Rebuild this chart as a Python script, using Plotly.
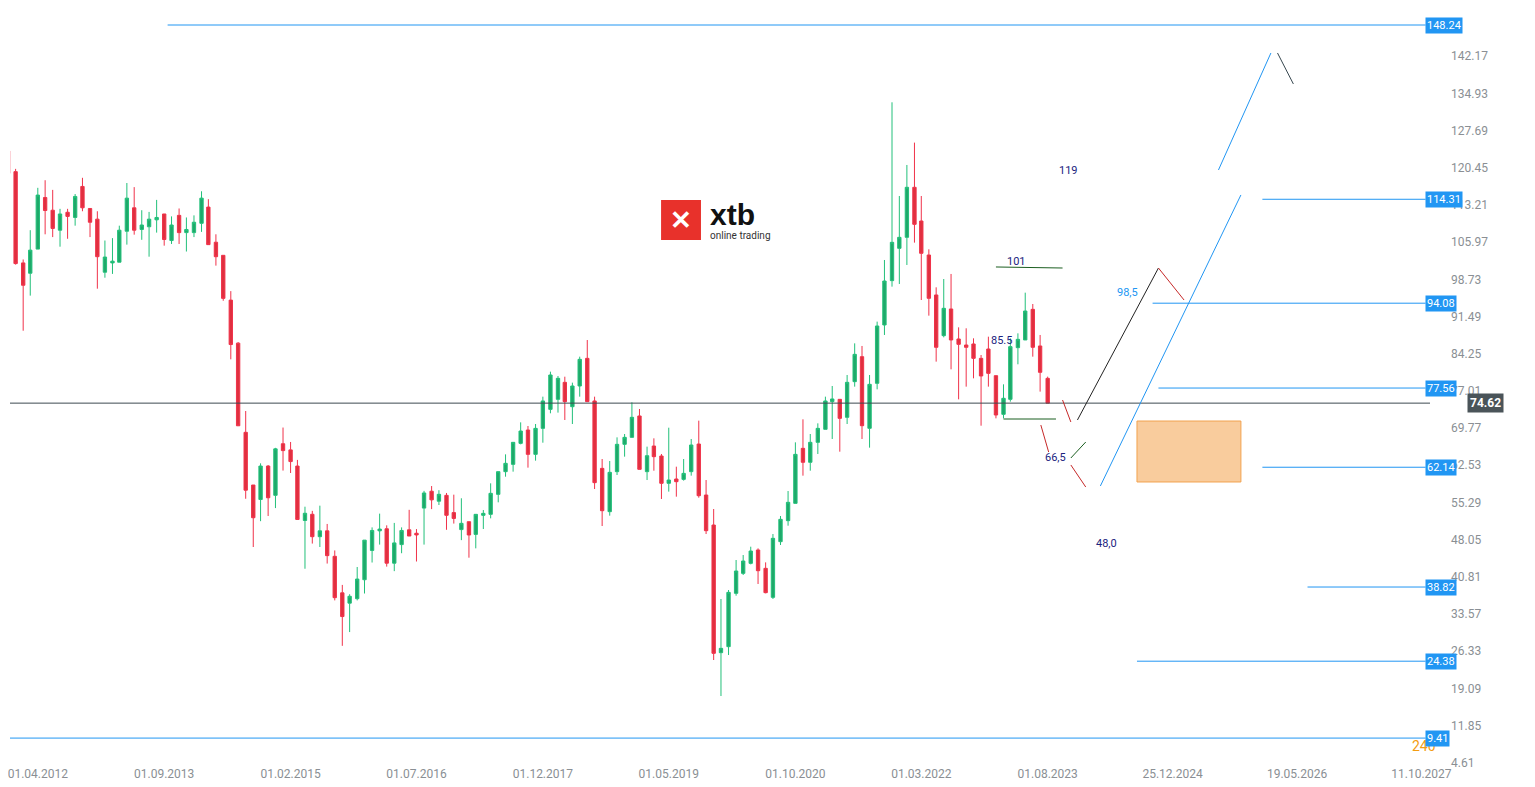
import plotly.graph_objects as go
import pandas as pd

start_month = "2011-12-01"
opens = [123.72,119.69,101.92,99.91,104.61,114.66,112.18,108.29,111.78,110.77,116.81,112.52,110.44,100.11,101.92,102.06,108.09,112.65,108.43,108.96,
110.31,111.45,106.28,111.18,107.82,107.82,109.63,112.79,105.95,103.40,94.68,86.30,68.94,58.68,55.86,62.37,56.67,66.72,65.52,62.37,
51.77,52.98,48.62,49.76,44.80,37.69,35.68,36.55,40.24,45.94,49.76,50.16,43.46,47.08,49.96,49.29,54.19,57.47,55.53,56.67,
53.31,50.0,51.54,49.07,52.78,52.97,56.86,61.28,62.70,66.79,69.39,64.65,69.71,73.41,75.36,78.67,73.93,77.96,83.34,75.04,
61.92,53.49,61.28,66.60,67.96,72.12,61.28,66.27,64.33,59.01,59.85,59.78,61.28,66.66,56.73,50.89,26.04,27.21,37.59,41.48,
43.43,46.03,42.46,36.81,47.65,51.74,55.11,65.82,63.10,66.99,69.52,74.91,75.36,71.86,78.80,83.67,69.72,78.48,89.84,98.47,
104.76,106.90,116.64,110.08,103.46,95.68,87.76,92.95,87.11,85.94,86.14,83.34,85.16,79.97,72.44,75.36,85.42,86.92,92.88,85.75,79.45]
highs = [126.06,120.23,102.59,108.29,116.54,118.02,116.14,112.45,112.45,115.33,118.49,112.52,111.98,106.28,106.75,109.17,117.48,116.68,112.18,111.85,
114.19,111.45,110.98,112.52,110.77,111.18,115.87,114.33,107.49,103.40,96.43,86.50,73.09,58.68,62.90,62.57,65.92,69.87,67.06,63.57,
54.46,53.65,54.66,51.10,45.94,39.23,37.42,42.72,47.95,50.43,53.11,50.83,51.30,50.43,53.85,50.10,57.54,58.48,57.67,57.13,
56.80,56.10,51.54,52.97,53.81,59.01,61.28,64.65,66.99,70.88,70.17,70.56,75.88,80.75,79.90,79.77,78.61,83.67,86.91,75.88,
63.74,63.35,67.96,68.61,74.78,73.48,66.15,67.77,64.72,69.84,62.25,63.74,67.64,71.21,59.65,54.01,36.49,38.24,44.08,45.05,
46.67,46.35,43.62,49.14,52.65,57.51,66.99,71.47,68.61,70.69,75.88,77.96,75.36,80.10,86.26,85.75,80.10,90.49,102.49,133.19,
114.95,120.99,125.34,114.95,104.57,97.17,98.79,99.77,89.38,89.19,87.24,83.99,87.56,79.97,78.28,87.24,88.21,96.13,93.92,87.89,79.78]
lows = [117.01,101.59,88.72,95.55,104.61,107.49,106.95,105.08,106.62,109.17,111.98,106.95,96.90,99.04,99.78,102.06,105.48,107.42,106.42,103.13,
107.82,105.28,105.61,105.61,104.14,106.95,107.96,105.48,101.39,94.55,83.15,70.21,56.00,46.61,51.64,52.65,54.19,61.49,61.02,51.97,
42.38,47.28,46.61,43.39,36.22,27.37,30.05,36.22,37.56,43.59,47.08,42.79,41.91,45.40,48.75,43.79,47.08,53.99,54.79,49.96,
51.17,47.95,44.53,46.35,50.11,52.19,55.31,60.30,61.28,66.60,62.06,63.42,66.92,72.64,72.77,71.34,70.56,75.88,74.91,57.90,
50.70,52.71,60.63,64.20,67.96,61.73,59.65,61.47,55.96,57.39,56.41,59.53,60.50,56.21,49.14,24.61,17.60,25.58,37.13,41.16,
43.23,39.41,37.59,36.49,47.00,50.76,55.11,60.50,61.47,64.72,69.52,67.64,65.17,70.56,77.83,67.64,65.95,77.31,87.89,97.30,
97.82,101.52,105.87,94.70,91.65,82.70,87.43,81.20,75.36,77.83,79.45,70.23,77.83,71.66,71.66,74.91,82.18,86.92,83.67,76.86,74.62]
closes = [119.36,101.79,97.57,104.41,115.13,112.12,108.63,111.45,110.98,114.86,112.65,109.84,103.13,103.06,102.26,108.29,114.53,108.29,109.30,110.44,
110.77,106.48,109.30,107.82,108.43,109.84,114.53,105.48,103.13,95.02,86.03,70.21,57.67,52.31,62.37,56.20,65.72,65.38,63.24,51.97,
53.18,48.62,49.76,44.93,36.75,33.07,37.02,40.37,47.95,49.83,50.10,43.46,47.41,49.83,48.75,48.96,57.13,55.79,56.87,52.78,
52.17,51.22,48.95,52.97,53.16,57.06,61.28,62.90,66.99,69.19,64.65,69.71,75.04,80.10,79.45,74.91,77.96,83.15,74.91,59.14,
53.68,61.15,66.60,67.96,71.86,61.73,64.39,64.20,59.01,59.65,59.33,60.95,66.47,56.60,49.79,25.91,26.88,37.78,41.94,43.88,
45.83,42.00,37.72,48.30,52.00,55.31,64.65,63.10,66.99,69.71,75.04,75.43,71.66,78.67,84.12,70.23,78.28,89.64,98.40,105.93,
106.90,116.64,109.43,103.79,95.03,85.49,93.08,86.92,86.07,85.49,83.34,79.91,80.42,72.31,75.56,85.62,87.04,92.56,85.49,80.62,74.62]
dates = pd.date_range(start_month, periods=len(opens), freq="MS")

tick_dates = ["2012-04-01","2013-09-01","2015-02-01","2016-07-01","2017-12-01","2019-05-01",
              "2020-10-01","2022-03-01","2023-08-01","2024-12-25","2026-05-19","2027-10-11"]
tick_labels = ["01.04.2012","01.09.2013","01.02.2015","01.07.2016","01.12.2017","01.05.2019",
               "01.10.2020","01.03.2022","01.08.2023","25.12.2024","19.05.2026","11.10.2027"]
price_ticks = [4.61,11.85,19.09,26.33,33.57,40.81,48.05,55.29,62.53,69.77,77.01,84.25,91.49,98.73,105.97,113.21,120.45,127.69,134.93,142.17]

level_values = [148.24,114.31,94.08,77.56,62.14,38.82,24.38,9.41]
level_starts = ["2013-09-15","2025-12-28","2024-10-04","2024-10-28","2025-12-28","2026-07-01","2024-08-01","2011-11-06"]
last_price = 74.62
END = "2027-10-28"

BLUE = "#2196f3"
NAVY = "#1a237e"
fig = go.Figure(go.Candlestick(
    x=dates, open=opens, high=highs, low=lows, close=closes,
    increasing=dict(line=dict(color="#22c07a", width=1), fillcolor="#1fa86a"),
    decreasing=dict(line=dict(color="#f0324a", width=1), fillcolor="#e0303f"),
    whiskerwidth=0, showlegend=False, hoverinfo="skip"))

shapes = []
for v, s in zip(level_values, level_starts):
    shapes.append(dict(type="line", x0=s, x1=END, y0=v, y1=v, line=dict(color=BLUE, width=1)))
shapes.append(dict(type="line", xref="paper", x0=0, x1=1, y0=last_price, y1=last_price,
                   line=dict(color="#3d4a50", width=1)))
drawn = [
    ("2023-12-01", 71.34, "2024-10-28", 100.93, "#222222"),
    ("2024-10-28", 100.93, "2025-02-10", 94.70, "#c62828"),
    ("2023-10-01", 75.23, "2023-11-04", 70.95, "#c62828"),
    ("2023-07-04", 70.36, "2023-08-05", 65.10, "#c62828"),
    ("2023-11-04", 63.94, "2024-01-04", 67.05, "#1b5e20"),
    ("2023-11-04", 62.58, "2024-01-04", 58.29, "#c62828"),
    ("2024-03-04", 58.49, "2025-10-01", 115.15, BLUE),
    ("2025-07-01", 120.01, "2026-02-01", 142.79, BLUE),
    ("2026-02-28", 142.79, "2026-05-04", 136.76, "#37474f"),
    ("2023-01-01", 101.13, "2023-10-01", 100.93, "#1b5e20"),
    ("2023-02-01", 71.53, "2023-09-04", 71.53, "#1b5e20"),
]
for x0, y0, x1, y1, c in drawn:
    shapes.append(dict(type="line", x0=x0, y0=y0, x1=x1, y1=y1, line=dict(color=c, width=1)))
shapes.append(dict(type="rect", x0="2024-08-01", x1="2025-10-01", y0=59.27, y1=71.14,
                   fillcolor="#f9cc9d", line=dict(color="#f2a24e", width=1), layer="above"))
# logo
shapes.append(dict(type="rect", xref="paper", yref="paper", x0=0.4585, x1=0.4866, y0=0.6935, y1=0.7464,
                   fillcolor="#e8312b", line=dict(width=0)))

ann = []
for t, x, y, c in [("119","2023-10-25",120.0,NAVY),("101","2023-03-25",102.1,NAVY),("98,5","2024-06-25",96.07,BLUE),
                   ("85.5","2023-01-25",86.9,NAVY),("66,5","2023-09-01",64.1,NAVY),("48,0","2024-03-28",47.2,NAVY)]:
    ann.append(dict(x=x, y=y, text=t, showarrow=False, font=dict(color=c, size=11)))
ann.append(dict(xref="paper", yref="y", x=1, xshift=8, y=7.8, text="240", showarrow=False, xanchor="right",
                font=dict(color="#f39c12", size=14)))
for v in level_values:
    ann.append(dict(xref="paper", x=1, xshift=-5, y=v, text=f"{v:.2f}", showarrow=False, xanchor="left",
                    bgcolor=BLUE, font=dict(color="white", size=11), borderpad=1))
ann.append(dict(xref="paper", x=1, xshift=37, y=last_price, text=f"<b>{last_price:.2f}</b>", showarrow=False,
                xanchor="left", bgcolor="#4a5459", font=dict(color="white", size=12), borderpad=2))
ann.append(dict(xref="paper", yref="paper", x=0.4725, y=0.72, text="<b>✕</b>", showarrow=False,
                yanchor="middle", font=dict(color="white", size=26)))
ann.append(dict(xref="paper", yref="paper", x=0.4915, y=0.727, text="<b>xtb</b>", showarrow=False, xanchor="left",
                yanchor="middle", font=dict(color="#111111", size=30, family="Arial")))
ann.append(dict(xref="paper", yref="paper", x=0.4915, y=0.699, text="online trading", showarrow=False, xanchor="left",
                yanchor="middle", font=dict(color="#333333", size=10)))

fig.update_layout(
    width=1527, height=779, margin=dict(l=0, r=105, t=0, b=22),
    paper_bgcolor="white", plot_bgcolor="white",
    shapes=shapes, annotations=ann,
    font=dict(family="Roboto, Arial", color="#8a8f94", size=12),
    xaxis=dict(type="date", range=["2011-12-09", "2027-11-15"], rangeslider=dict(visible=False),
               showgrid=False, zeroline=False, tickvals=tick_dates, ticktext=tick_labels,
               ticklabeloverflow="allow", tickfont=dict(size=12, color="#8a8f94")),
    yaxis=dict(side="right", range=[4.17, 151.55], showgrid=False, zeroline=False,
               tickvals=price_ticks, ticktext=[f"{p:.2f}" for p in price_ticks], ticklabelstandoff=20,
               tickfont=dict(size=12, color="#8a8f94")),
)
fig.write_html("out.html")
